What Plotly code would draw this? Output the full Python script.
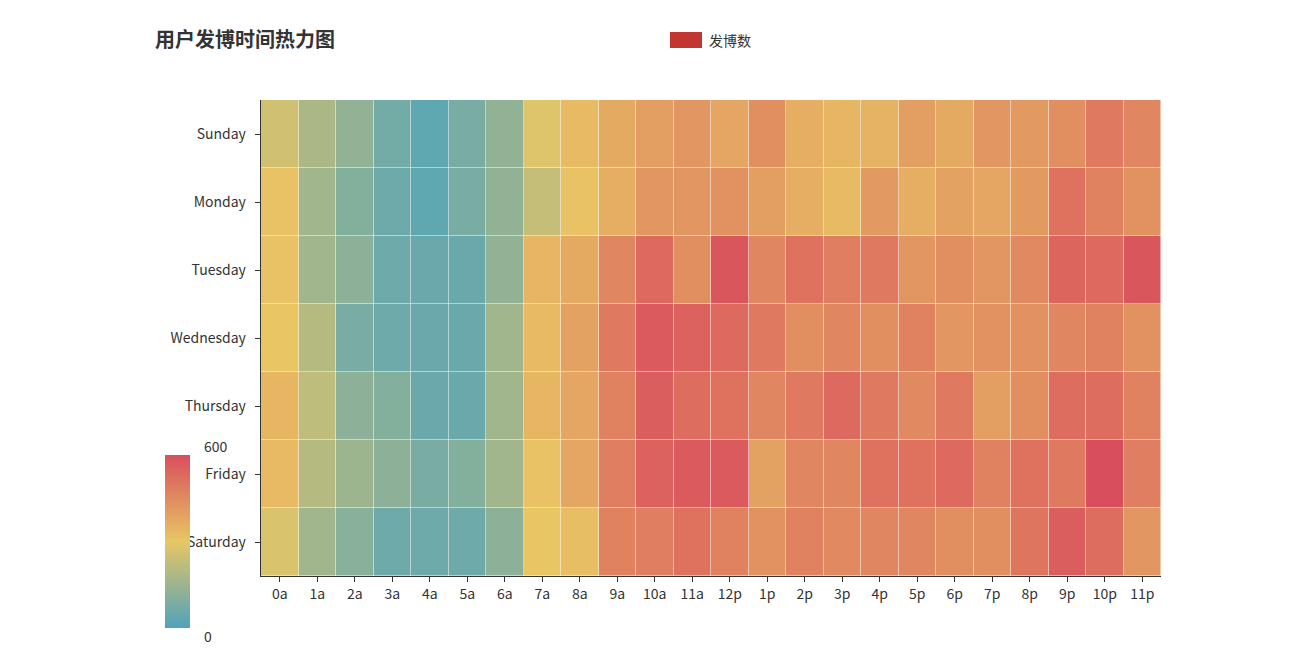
import plotly.graph_objects as go

hours = ["0a", "1a", "2a", "3a", "4a", "5a", "6a", "7a", "8a", "9a", "10a", "11a",
         "12p", "1p", "2p", "3p", "4p", "5p", "6p", "7p", "8p", "9p", "10p", "11p"]
days = ["Sunday", "Monday", "Tuesday", "Wednesday", "Thursday", "Friday", "Saturday"]

sunday    = [250, 180, 130, 70, 30, 80, 130, 280, 330, 370, 400, 420, 380, 440, 360, 340, 350, 400, 370, 420, 410, 440, 490, 460]
monday    = [310, 160, 100, 60, 30, 80, 130, 230, 310, 360, 420, 420, 430, 400, 360, 330, 410, 360, 390, 380, 410, 510, 470, 430]
tuesday   = [310, 160, 120, 60, 50, 50, 130, 340, 370, 460, 530, 440, 580, 460, 510, 480, 490, 420, 440, 420, 450, 540, 530, 580]
wednesday = [300, 200, 80, 60, 50, 50, 160, 330, 390, 490, 570, 550, 530, 490, 440, 460, 440, 470, 420, 430, 430, 460, 470, 430]
thursday  = [340, 220, 120, 100, 50, 50, 160, 340, 380, 470, 560, 520, 510, 460, 490, 530, 490, 450, 490, 400, 440, 520, 520, 470]
friday    = [330, 200, 150, 120, 80, 100, 160, 310, 380, 480, 550, 570, 570, 390, 460, 460, 510, 510, 530, 470, 510, 490, 600, 480]
saturday  = [270, 160, 110, 60, 60, 60, 120, 300, 320, 470, 480, 510, 470, 430, 470, 450, 460, 460, 440, 440, 500, 560, 520, 420]

z = [sunday, monday, tuesday, wednesday, thursday, friday, saturday]

font = "Microsoft YaHei, Noto Sans CJK SC, sans-serif"

fig = go.Figure(go.Heatmap(
    x=hours, y=days, z=z, zmin=0, zmax=600, xgap=0.5, ygap=0.5,
    colorscale=[[0, "#50a3ba"], [0.5, "#e8c664"], [1, "#d94e5d"]],
    colorbar=dict(x=-0.118, xanchor="left", xref="paper", y=-52 / 476, yanchor="bottom",
                  lenmode="pixels", len=173, ypad=0, thickness=25, outlinewidth=0,
                  showticklabels=False, ticks=""),
    hovertemplate="%{y} %{x}: %{z}<extra></extra>",
))

fig.update_layout(
    width=1293, height=656,
    margin=dict(l=253, r=140, t=92, b=88),
    paper_bgcolor="white", plot_bgcolor="white",
    font=dict(family=font, size=14, color="#333"),
    title=dict(text="<b>用户发博时间热力图</b>", x=147 / 1293, y=1 - 32 / 656,
               xanchor="left", yanchor="middle", font=dict(size=20, color="#333")),
    xaxis=dict(showline=True, linecolor="#333", ticks="outside", ticklen=5,
               tickcolor="#333", showgrid=False, zeroline=False),
    yaxis=dict(autorange="reversed", showline=True, linecolor="#333", ticks="outside",
               ticklen=5, tickcolor="#333", showgrid=False, zeroline=False,
               ticksuffix="  "),
    shapes=[dict(type="rect", xref="paper", yref="paper",
                 x0=(670 - 261) / 900, x1=(702 - 261) / 900,
                 y0=1 + (100 - 48) / 476, y1=1 + (100 - 32) / 476,
                 fillcolor="#c23531", line=dict(width=0))],
    annotations=[
        dict(text="发博数", xref="paper", yref="paper", x=(707 - 261) / 900,
             y=1 + (100 - 40) / 476, xanchor="left", yanchor="middle",
             showarrow=False, font=dict(size=14, color="#333")),
        dict(text="600", xref="paper", yref="paper", x=(202 - 261) / 900,
             y=(576 - 446) / 476, xanchor="left", yanchor="middle",
             showarrow=False, font=dict(size=14, color="#333")),
        dict(text="0", xref="paper", yref="paper", x=(202 - 261) / 900,
             y=(576 - 636) / 476, xanchor="left", yanchor="middle",
             showarrow=False, font=dict(size=14, color="#333")),
    ],
)

fig.write_html("out.html")
